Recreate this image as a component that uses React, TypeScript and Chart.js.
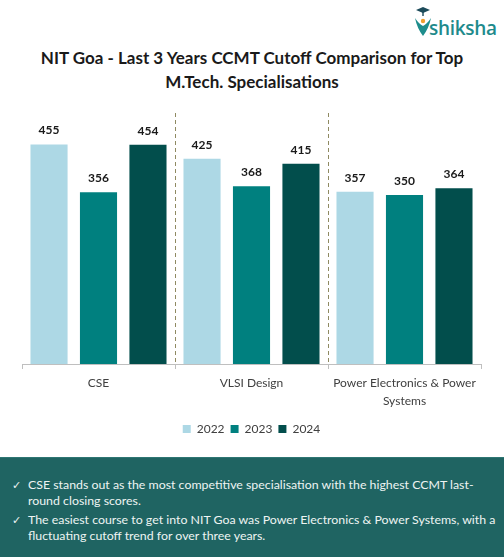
import React, { useEffect, useRef } from "react";
import { Chart, registerables } from "chart.js";

Chart.register(...registerables);

const categories: (string | string[])[] = ["CSE", "VLSI Design", ["Power Electronics & Power", "Systems"]];
const years = ["2022", "2023", "2024"];
const values2022 = [455, 425, 357];
const values2023 = [356, 368, 350];
const values2024 = [454, 415, 364];
const colors = ["#ADD8E5", "#00807F", "#024E4C"];

const FONT = "Lato, 'Open Sans', sans-serif";

const labelPlugin = {
  id: "valueLabels",
  afterDatasetsDraw(chart: any) {
    const ctx = chart.ctx;
    ctx.save();
    ctx.font = `bold 12px ${FONT}`;
    ctx.fillStyle = "#1a1a1a";
    ctx.textAlign = "center";
    ctx.textBaseline = "middle";
    chart.data.datasets.forEach((ds: any, di: number) => {
      const meta = chart.getDatasetMeta(di);
      meta.data.forEach((bar: any, i: number) => {
        ctx.fillText(String(ds.data[i]), bar.x, bar.y - 14);
      });
    });
    ctx.restore();
  },
};

const separatorPlugin = {
  id: "separators",
  beforeDatasetsDraw(chart: any) {
    const ctx = chart.ctx;
    const xs = chart.scales.x;
    const area = chart.chartArea;
    ctx.save();
    ctx.strokeStyle = "#8f8a62";
    ctx.lineWidth = 1;
    ctx.setLineDash([4, 3]);
    for (let i = 1; i < categories.length; i++) {
      const x = Math.round((xs.getPixelForValue(i - 1) + xs.getPixelForValue(i)) / 2) + 0.5;
      ctx.beginPath();
      ctx.moveTo(x, area.top);
      ctx.lineTo(x, area.bottom);
      ctx.stroke();
    }
    ctx.restore();
  },
};

function BarChart() {
  const ref = useRef<HTMLCanvasElement>(null);
  useEffect(() => {
    if (!ref.current) return;
    const chart = new Chart(ref.current, {
      type: "bar",
      data: {
        labels: categories,
        datasets: [
          { label: years[0], data: values2022, backgroundColor: colors[0] },
          { label: years[1], data: values2023, backgroundColor: colors[1] },
          { label: years[2], data: values2024, backgroundColor: colors[2] },
        ],
      },
      options: {
        animation: false,
        responsive: false,
        devicePixelRatio: 1,
        layout: { padding: { left: 22, right: 23, top: 13, bottom: 0 } },
        datasets: { bar: { categoryPercentage: 0.97, barPercentage: 0.75 } },
        scales: {
          y: { display: false, min: 0, max: 520 },
          x: {
            grid: {
              offset: true,
              drawOnChartArea: false,
              tickLength: 5,
              tickColor: "#bfbfbf",
            },
            border: { display: true, color: "#bfbfbf" },
            afterFit: (scale: any) => {
              scale.height += 2;
            },
            ticks: {
              maxRotation: 0,
              autoSkip: false,
              padding: 5,
              color: "#404040",
              font: { family: FONT, size: 12, lineHeight: 1.5 },
            },
          },
        },
        plugins: {
          legend: {
            position: "bottom",
            labels: {
              boxWidth: 8,
              boxHeight: 8,
              color: "#404040",
              font: { family: FONT, size: 12 },
              padding: 6,
            },
          },
          tooltip: { enabled: false },
        },
      },
      plugins: [labelPlugin, separatorPlugin],
    } as any);
    return () => chart.destroy();
  }, []);
  return <canvas ref={ref} width={504} height={345} style={{ display: "block" }} />;
}

function Logo() {
  return (
    <div style={{ position: "absolute", left: 412, top: 4, width: 90, height: 36 }}>
      <svg width="22" height="34" viewBox="0 0 22 34" style={{ position: "absolute", left: 0, top: 0 }}>
        <polygon points="11,3 18,6 11,9 4,6" fill="#1c4b5a" />
        <rect x="10.3" y="8" width="1.4" height="4" fill="#1c4b5a" />
        <path d="M3,14 Q5,24 11,32 Q17,24 19,14 Q15,20 11,22 Q7,20 3,14 Z" fill="#1e8d8c" />
        <circle cx="11" cy="17" r="2.2" fill="#f0a030" />
      </svg>
      <span
        style={{
          position: "absolute",
          left: 17,
          top: 14,
          fontFamily: "'Open Sans', sans-serif",
          fontSize: 19,
          fontWeight: 600,
          color: "#1e8a8c",
          lineHeight: "20px",
          letterSpacing: -0.3,
        }}
      >
        shiksha
      </span>
    </div>
  );
}

export default function App() {
  const bullet = { display: "flex", alignItems: "flex-start", marginBottom: 3 } as React.CSSProperties;
  const check = { width: 16, flexShrink: 0, fontSize: 11, fontFamily: "'DejaVu Sans', sans-serif", paddingTop: 1 } as React.CSSProperties;
  return (
    <div
      style={{
        position: "fixed",
        left: 0,
        top: 0,
        width: 504,
        height: 557,
        background: "#ffffff",
        overflow: "hidden",
        fontFamily: FONT,
      }}
    >
      <Logo />
      <div
        style={{
          position: "absolute",
          left: 0,
          top: 46,
          width: 504,
          textAlign: "center",
          fontWeight: "bold",
          fontSize: 17,
          lineHeight: "24px",
          color: "#1a1a1a",
        }}
      >
        NIT Goa - Last 3 Years CCMT Cutoff Comparison for Top
        <br />
        M.Tech. Specialisations
      </div>
      <div style={{ position: "absolute", left: 0, top: 100 }}>
        <BarChart />
      </div>
      <div
        style={{
          position: "absolute",
          left: 0,
          top: 457,
          width: 504,
          height: 100,
          background: "#1F6462",
          borderTop: "1px solid #2e7673",
          boxSizing: "border-box",
          color: "#eef4f3",
          fontSize: 12.35,
          lineHeight: "16px",
          padding: "19px 5px 0 12px",
        }}
      >
        <div style={bullet}>
          <span style={check}>✓</span>
          <span>CSE stands out as the most competitive specialisation with the highest CCMT last-round closing scores.</span>
        </div>
        <div style={bullet}>
          <span style={check}>✓</span>
          <span>
            The easiest course to get into NIT Goa was Power Electronics &amp; Power Systems, with a fluctuating cutoff
            trend for over three years.
          </span>
        </div>
      </div>
    </div>
  );
}
